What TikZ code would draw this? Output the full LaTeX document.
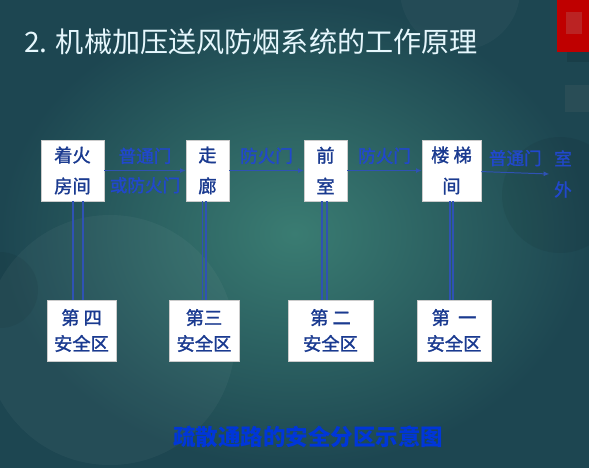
\documentclass[tikz,border=0pt]{standalone}
\usepackage{fontspec}
\newfontfamily\cjk{Noto Sans CJK SC}
\newfontfamily\cjkm[FakeBold=1.5]{Noto Sans CJK SC}
\usetikzlibrary{arrows.meta}

\definecolor{bgdark}{HTML}{1D4651}
\definecolor{bglight}{HTML}{3A7C72}
\definecolor{boxtext}{HTML}{1A3A90}
\definecolor{doortext}{HTML}{2148CC}
\definecolor{flowline}{HTML}{2F52B4}

\tikzset{
    room/.style={draw=gray!40, fill=white, text=boxtext, align=center,
        minimum height=1.525cm, inner sep=0pt,
        font=\cjkm\fontsize{13}{22}\selectfont},
    zone/.style={room, font=\cjkm\fontsize{13}{18.5}\selectfont},
    door/.style={text=doortext, font=\cjkm\fontsize{12.5}{15}\selectfont},
    flow/.style={draw=flowline, line width=0.7pt, -{Latex[length=4pt,width=3.5pt]}},
    tie/.style={draw=flowline, line width=0.8pt}
}

\begin{document}
\begin{tikzpicture}[x=0.025cm,y=-0.025cm]
            \useasboundingbox (0,0) rectangle (589,467);
            \shade[inner color=bglight, outer color=bgdark] (0,0) rectangle (589,467);
            \fill[white, opacity=0.04] (110,340) circle (125);
            \fill[black, opacity=0.05] (0,290) circle (38);
            \fill[black, opacity=0.06] (560,195) circle (58);
            \fill[white, opacity=0.03] (460,-10) circle (60);
            % corner marks
            \fill[red!75!black] (557,0) rectangle (589,52);
            \fill[red!45!gray, opacity=0.5] (566,12) rectangle (582,34);
            \fill[bgdark!80!black, opacity=0.5] (567,52) rectangle (589,62);
            \fill[gray, opacity=0.12] (565,85) rectangle (589,112);

            \node[text=white!90!cyan, font=\cjk\fontsize{20}{22}\selectfont] (title) at (251,42) {2. 机械加压送风防烟系统的工作原理};

            % rooms
            \node[room, minimum width=1.575cm] (fire) at (72.5,170.5) {着火\\房间};
            \node[room, minimum width=1.075cm] (corr) at (207.5,170.5) {走\\廊};
            \node[room, minimum width=1.075cm] (ante) at (325.5,170.5) {前\\室};
            \node[room, minimum width=1.475cm] (stair) at (451.5,170.5) {楼 梯\\间};
            \node[door, align=center, font=\cjkm\fontsize{12.5}{22}\selectfont] (out) at (563,174) {室\\外};

            \draw[flow] (fire) -- (corr)
                node[door, midway, above=1pt] {普通门}
                node[door, midway, below=1pt] {或防火门};
            \draw[flow] (corr) -- (ante) node[door, midway, above=1pt] {防火门};
            \draw[flow] (ante) -- (stair) node[door, midway, above=1pt] {防火门};
            \draw[flow] (stair) -- (out.west) node[door, midway, above=1pt] {普通门};

            % safety zones
            \node[zone, minimum width=1.725cm] (z4) at (81.5,330.5) {第 四\\安全区};
            \node[zone, minimum width=1.75cm] (z3) at (204,330.5) {第三\\安全区};
            \node[zone, minimum width=2.125cm] (z2) at (330.5,330.5) {第 二\\安全区};
            \node[zone, minimum width=1.85cm] (z1) at (454,330.5) {第\ \ 一\\安全区};

            \foreach \r/\z/\a/\b in {fire/z4/0.5/10.5, corr/z3/-5/-1.5, ante/z2/-3.5/1.5, stair/z1/-1.5/1.5} {
                \draw[tie] ([xshift=\a*0.025cm]\r.south) -- ([xshift=\a*0.025cm]\r.south |- \z.north);
                \draw[tie] ([xshift=\b*0.025cm]\r.south) -- ([xshift=\b*0.025cm]\r.south |- \z.north);
            }

            \node[text=blue!75!cyan!85!black, font=\cjk\bfseries\fontsize{16}{18}\selectfont] (caption) at (308,437) {疏散通路的安全分区示意图};

        \end{tikzpicture}
\end{document}
